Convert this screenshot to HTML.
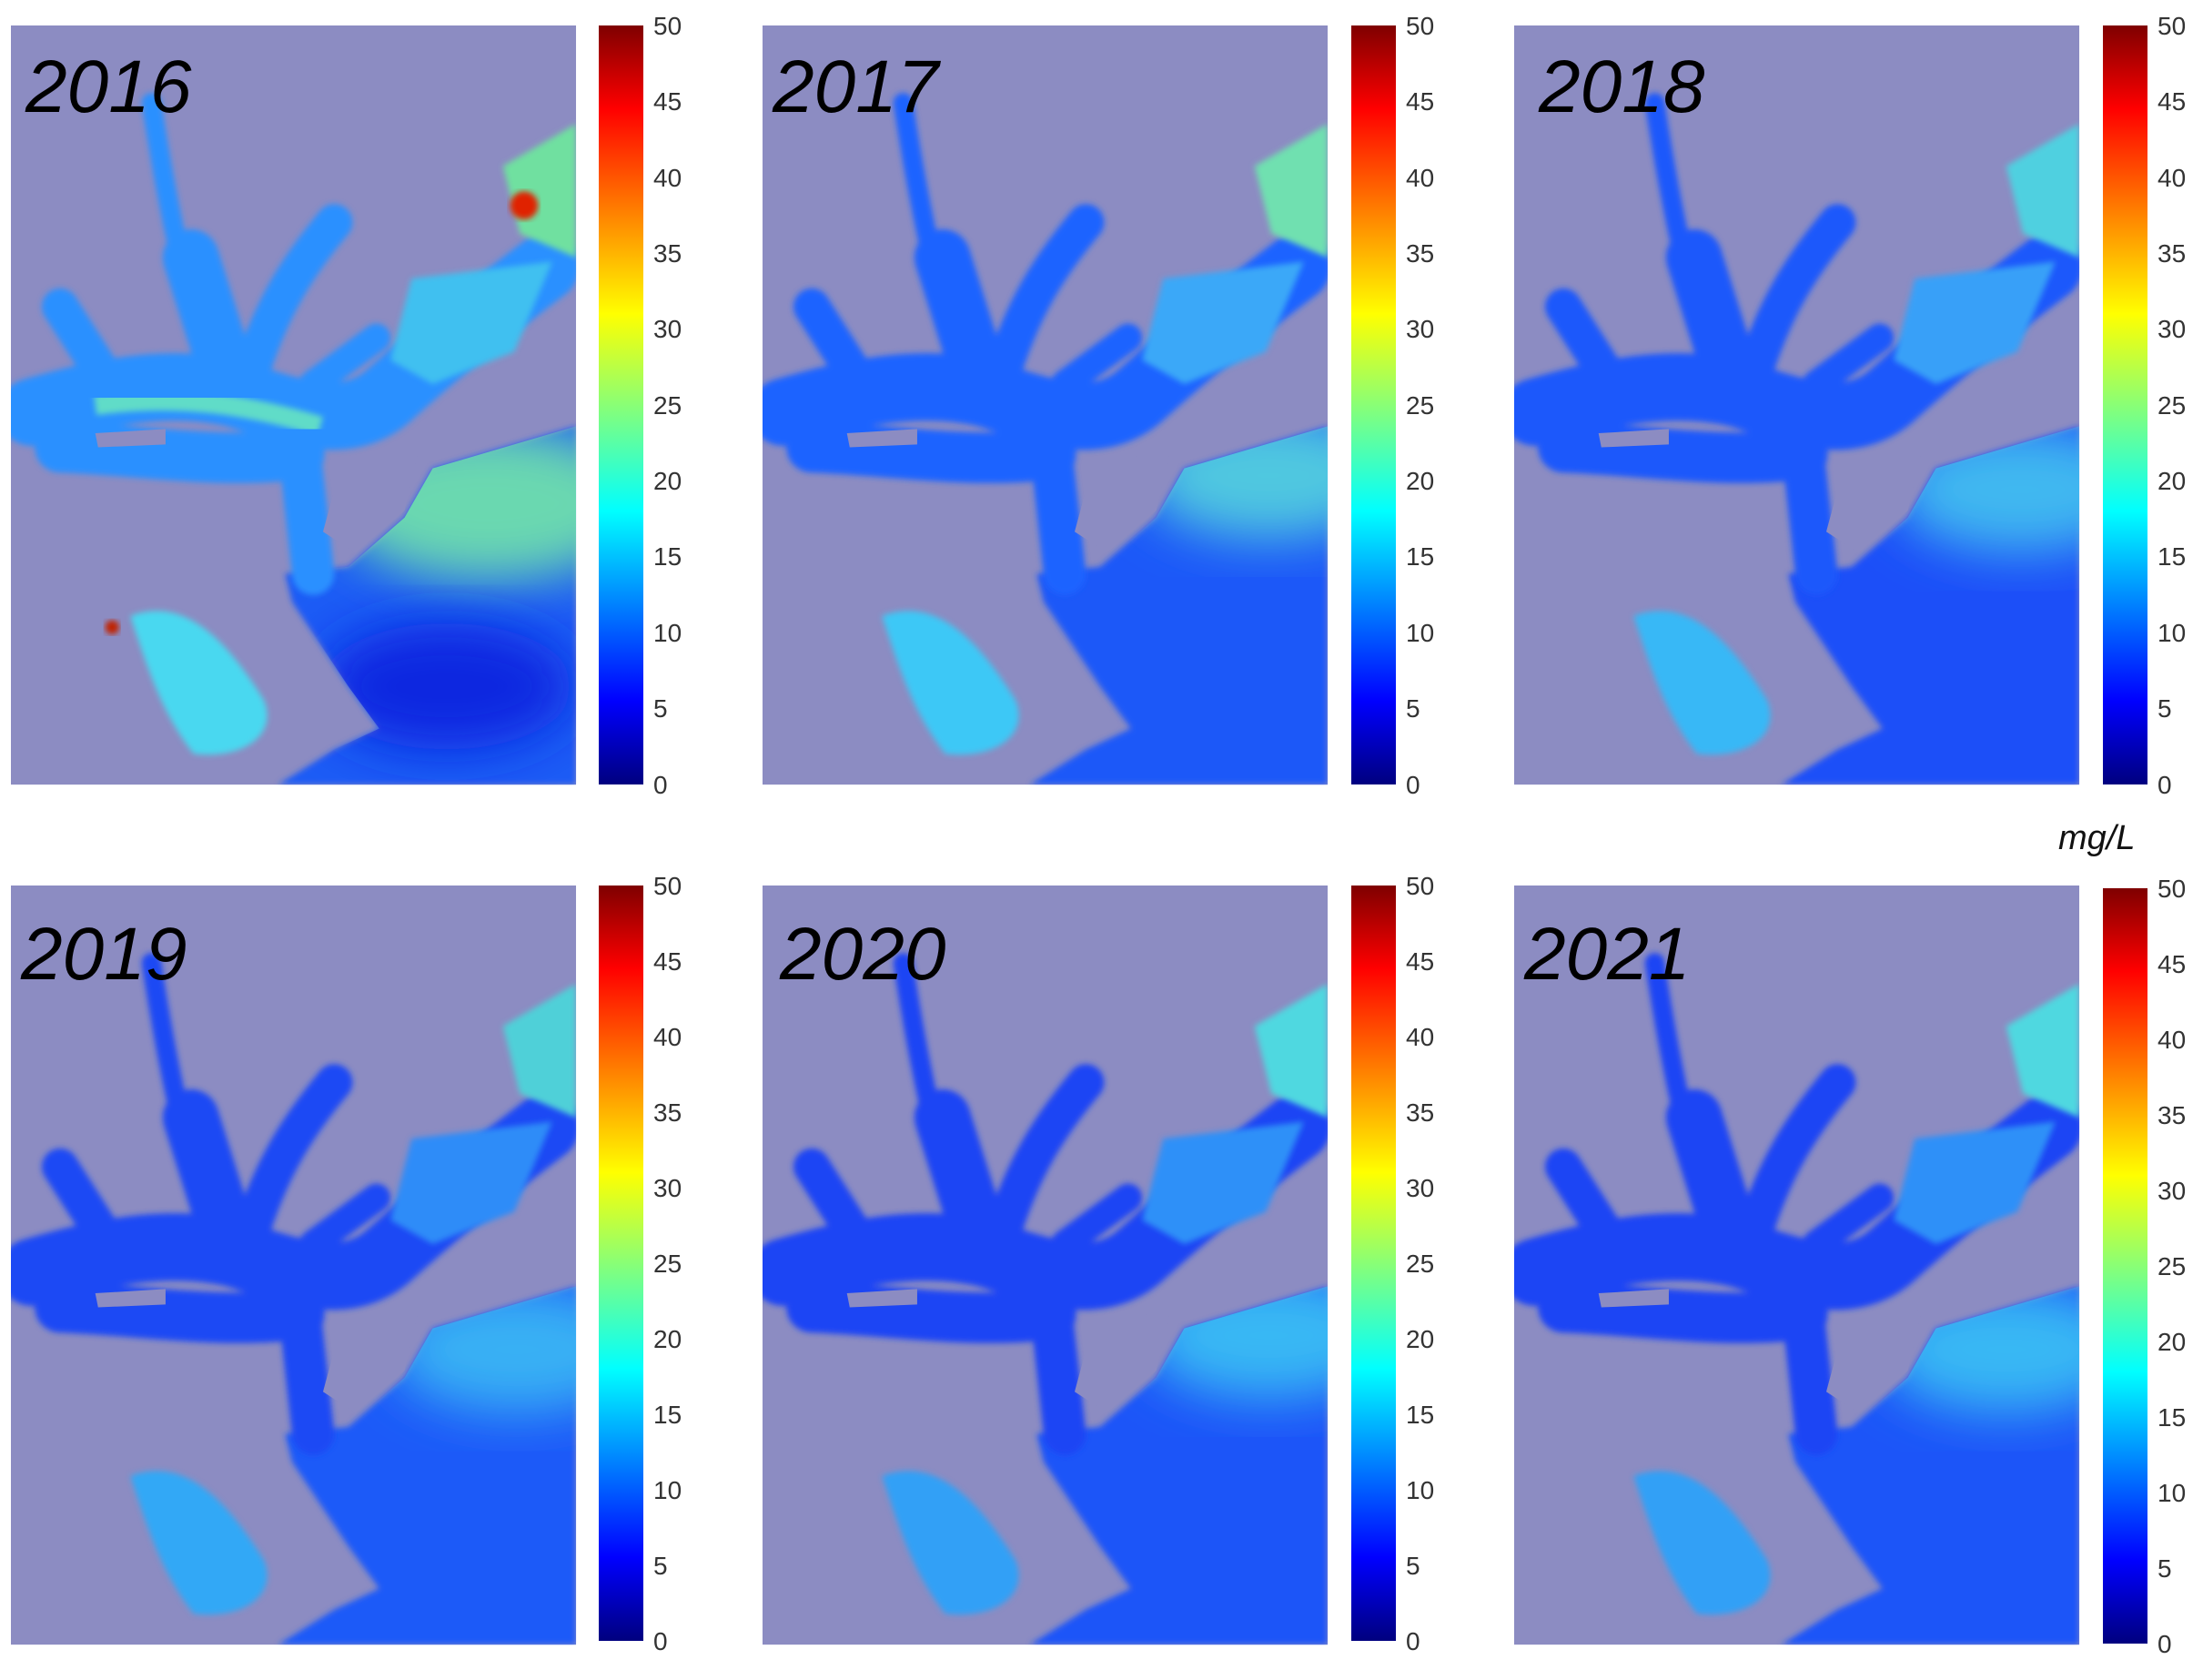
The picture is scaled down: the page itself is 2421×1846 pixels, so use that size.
<!DOCTYPE html>
<html><head><meta charset="utf-8"><style>
html,body{margin:0;padding:0;background:#fff;}
svg{display:block}
text{font-family:"Liberation Sans",sans-serif;}
</style></head><body>
<svg width="2421" height="1846" viewBox="0 0 2421 1846" xmlns="http://www.w3.org/2000/svg">
<defs>
<linearGradient id="jet" x1="0" y1="1" x2="0" y2="0">
<stop offset="0" stop-color="#00007f"/><stop offset="0.11" stop-color="#0000ff"/>
<stop offset="0.36" stop-color="#00ffff"/><stop offset="0.62" stop-color="#ffff00"/>
<stop offset="0.89" stop-color="#ff0000"/><stop offset="1" stop-color="#7f0000"/>
</linearGradient>
<filter id="bl" x="-10%" y="-10%" width="120%" height="120%"><feGaussianBlur stdDeviation="2"/></filter>
<filter id="bl2" x="-30%" y="-30%" width="160%" height="160%"><feGaussianBlur stdDeviation="18"/></filter>
<clipPath id="mc"><rect x="0" y="0" width="402" height="540"/></clipPath>
<clipPath id="seac"><path d="M195,390 L240,385 L280,350 L300,315 L402,285 L402,540 L190,540 L230,515 L262,500 L240,470 L220,440 L200,410 Z"/></clipPath>
<g id="sea"><path d="M195,390 L240,385 L280,350 L300,315 L402,285 L402,540 L190,540 L230,515 L262,500 L240,470 L220,440 L200,410 Z"/></g>
<g id="est" fill="none" stroke-linecap="round" stroke-linejoin="round">
<path d="M15,275 C60,262 110,250 160,262 C200,275 240,290 270,262 C300,235 330,210 380,172" stroke-width="48"/>
<path d="M35,300 C90,302 150,312 205,305" stroke-width="36"/>
<path d="M205,300 L215,390" stroke-width="30"/>
<path d="M100,55 C110,120 120,170 140,240" stroke-width="14"/>
<path d="M128,165 L150,235" stroke-width="40"/>
<path d="M170,250 C185,200 205,170 230,140" stroke-width="26"/>
<path d="M35,200 L70,255" stroke-width="26"/>
<path d="M215,255 L260,222" stroke-width="20"/>
</g>
<g id="lake"><path d="M285,180 L385,168 L358,232 L300,255 L270,238 Z"/></g>
<g id="sw"><path d="M85,420 C125,405 155,440 180,480 C190,505 165,522 130,518 C108,490 98,460 85,420 Z"/></g>
<g id="ne"><path d="M350,100 L402,70 L402,165 L362,148 Z"/></g>
<g id="land"><path d="M235,312 L290,302 L280,345 L245,375 L222,360 Z"/><path d="M60,290 L110,287 L110,298 L62,300 Z"/></g>
</defs>

<g transform="translate(12,28) scale(1.545)">
<g clip-path="url(#mc)">
<rect width="402" height="540" fill="#8c8cc2"/>
<use href="#sea" fill="#1f5cf5" filter="url(#bl)"/>
<g clip-path="url(#seac)">
<ellipse cx="340" cy="340" rx="110" ry="55" fill="#6ad8b0" filter="url(#bl2)"/>
<ellipse cx="310" cy="470" rx="90" ry="45" fill="#0a28e0" filter="url(#bl2)"/>
</g>
<use href="#est" stroke="#2a90ff" filter="url(#bl)"/>
<path d="M60,270 C120,262 170,270 220,285" stroke="#60dcc8" stroke-width="14" fill="none" filter="url(#bl)"/>
<use href="#lake" fill="#40c0f0" filter="url(#bl)"/>
<use href="#sw" fill="#4ad8f0" filter="url(#bl)"/>
<use href="#ne" fill="#70e0a0" filter="url(#bl)"/>
<circle cx="365" cy="128" r="10" fill="#e02000" filter="url(#bl)"/>
<circle cx="72" cy="428" r="5" fill="#c02000" filter="url(#bl)"/>
<use href="#land" fill="#8c8cc2"/>
</g></g>

<g transform="translate(838,28) scale(1.545)">
<g clip-path="url(#mc)">
<rect width="402" height="540" fill="#8c8cc2"/>
<use href="#sea" fill="#1e58f8" filter="url(#bl)"/>
<g clip-path="url(#seac)"><ellipse cx="360" cy="320" rx="90" ry="45" fill="#50c8e0" filter="url(#bl2)"/></g>
<use href="#est" stroke="#1e64ff" filter="url(#bl)"/>
<use href="#lake" fill="#3aa8f8" filter="url(#bl)"/>
<use href="#sw" fill="#3ec8f6" filter="url(#bl)"/>
<use href="#ne" fill="#70e0b0" filter="url(#bl)"/>
<use href="#land" fill="#8c8cc2"/>
</g></g>

<g transform="translate(1664,28) scale(1.545)">
<g clip-path="url(#mc)">
<rect width="402" height="540" fill="#8c8cc2"/>
<use href="#sea" fill="#1e50f8" filter="url(#bl)"/>
<g clip-path="url(#seac)"><ellipse cx="360" cy="330" rx="90" ry="45" fill="#40b8f0" filter="url(#bl2)"/></g>
<use href="#est" stroke="#1c58fb" filter="url(#bl)"/>
<use href="#lake" fill="#38a0f8" filter="url(#bl)"/>
<use href="#sw" fill="#38b8f6" filter="url(#bl)"/>
<use href="#ne" fill="#50d0e0" filter="url(#bl)"/>
<use href="#land" fill="#8c8cc2"/>
</g></g>

<g transform="translate(12,973) scale(1.545)">
<g clip-path="url(#mc)">
<rect width="402" height="540" fill="#8c8cc2"/>
<use href="#sea" fill="#1c5af8" filter="url(#bl)"/>
<g clip-path="url(#seac)"><ellipse cx="360" cy="330" rx="90" ry="45" fill="#38b0f4" filter="url(#bl2)"/></g>
<use href="#est" stroke="#1a48f4" filter="url(#bl)"/>
<use href="#lake" fill="#2e8cf8" filter="url(#bl)"/>
<use href="#sw" fill="#30a8f6" filter="url(#bl)"/>
<use href="#ne" fill="#50d0d8" filter="url(#bl)"/>
<use href="#land" fill="#8c8cc2"/>
</g></g>

<g transform="translate(838,973) scale(1.545)">
<g clip-path="url(#mc)">
<rect width="402" height="540" fill="#8c8cc2"/>
<use href="#sea" fill="#1c54f8" filter="url(#bl)"/>
<g clip-path="url(#seac)"><ellipse cx="360" cy="320" rx="90" ry="45" fill="#38b8f4" filter="url(#bl2)"/></g>
<use href="#est" stroke="#1a44f4" filter="url(#bl)"/>
<use href="#lake" fill="#2e90f8" filter="url(#bl)"/>
<use href="#sw" fill="#30a0f6" filter="url(#bl)"/>
<use href="#ne" fill="#50d8e0" filter="url(#bl)"/>
<use href="#land" fill="#8c8cc2"/>
</g></g>

<g transform="translate(1664,973) scale(1.545)">
<g clip-path="url(#mc)">
<rect width="402" height="540" fill="#8c8cc2"/>
<use href="#sea" fill="#1c54f8" filter="url(#bl)"/>
<g clip-path="url(#seac)"><ellipse cx="350" cy="330" rx="90" ry="45" fill="#38b8f4" filter="url(#bl2)"/></g>
<use href="#est" stroke="#1a44f4" filter="url(#bl)"/>
<use href="#lake" fill="#2e90f8" filter="url(#bl)"/>
<use href="#sw" fill="#30a0f6" filter="url(#bl)"/>
<use href="#ne" fill="#50d8e0" filter="url(#bl)"/>
<use href="#land" fill="#8c8cc2"/>
</g></g>

<g font-style="italic" font-size="82" fill="#000">
<text x="28" y="123">2016</text>
<text x="849" y="123">2017</text>
<text x="1691" y="123">2018</text>
<text x="23" y="1076">2019</text>
<text x="857" y="1076">2020</text>
<text x="1675" y="1076">2021</text>
</g>

<g>
<rect x="658" y="28" width="49" height="834" fill="url(#jet)"/>
<rect x="1485" y="28" width="49" height="834" fill="url(#jet)"/>
<rect x="2311" y="28" width="49" height="834" fill="url(#jet)"/>
<rect x="658" y="973" width="49" height="830" fill="url(#jet)"/>
<rect x="1485" y="973" width="49" height="830" fill="url(#jet)"/>
<rect x="2311" y="976" width="49" height="830" fill="url(#jet)"/>
</g>
<g font-size="28" fill="#333">
<g transform="translate(718,28)">
<text y="10">50</text><text y="93">45</text><text y="177">40</text><text y="260">35</text><text y="343">30</text><text y="427">25</text><text y="510">20</text><text y="593">15</text><text y="677">10</text><text y="760">5</text><text y="844">0</text></g>
<g transform="translate(1545,28)">
<text y="10">50</text><text y="93">45</text><text y="177">40</text><text y="260">35</text><text y="343">30</text><text y="427">25</text><text y="510">20</text><text y="593">15</text><text y="677">10</text><text y="760">5</text><text y="844">0</text></g>
<g transform="translate(2371,28)">
<text y="10">50</text><text y="93">45</text><text y="177">40</text><text y="260">35</text><text y="343">30</text><text y="427">25</text><text y="510">20</text><text y="593">15</text><text y="677">10</text><text y="760">5</text><text y="844">0</text></g>
<g transform="translate(718,973)">
<text y="10">50</text><text y="93">45</text><text y="176">40</text><text y="259">35</text><text y="342">30</text><text y="425">25</text><text y="508">20</text><text y="591">15</text><text y="674">10</text><text y="757">5</text><text y="840">0</text></g>
<g transform="translate(1545,973)">
<text y="10">50</text><text y="93">45</text><text y="176">40</text><text y="259">35</text><text y="342">30</text><text y="425">25</text><text y="508">20</text><text y="591">15</text><text y="674">10</text><text y="757">5</text><text y="840">0</text></g>
<g transform="translate(2371,976)">
<text y="10">50</text><text y="93">45</text><text y="176">40</text><text y="259">35</text><text y="342">30</text><text y="425">25</text><text y="508">20</text><text y="591">15</text><text y="674">10</text><text y="757">5</text><text y="840">0</text></g>
</g>
<text x="2262" y="933" font-size="38" font-style="italic" fill="#111">mg/L</text>
</svg>
</body></html>
